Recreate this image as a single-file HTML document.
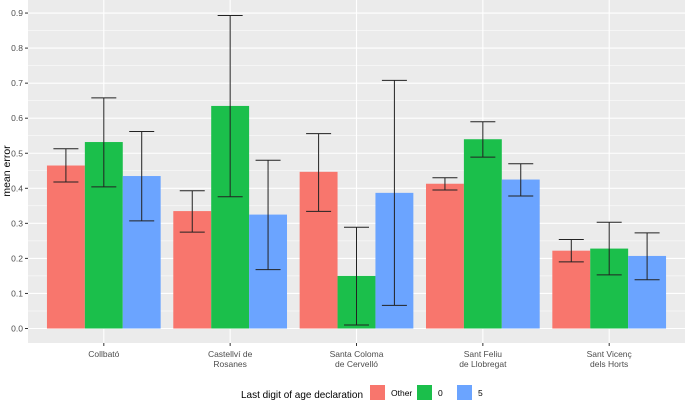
<!DOCTYPE html>
<html><head><meta charset="utf-8"><style>
body{margin:0;background:#fff;font-family:"Liberation Sans",Arial,sans-serif}
svg text{font-family:"Liberation Sans",Arial,sans-serif}
</style></head><body>
<svg id="c" width="685" height="403" xmlns="http://www.w3.org/2000/svg"></svg>
<script>
const categories=["Collbató","Castellví de|Rosanes","Santa Coloma|de Cervelló","Sant Feliu|de Llobregat","Sant Vicenç|dels Horts"];
const series=["Other","0","5"];
const colors=["#F8766D","#1BBF4B","#6BA4FF"];
const valOther=[0.465,0.335,0.447,0.413,0.222];
const loOther=[0.418,0.275,0.334,0.395,0.190];
const hiOther=[0.513,0.393,0.556,0.430,0.254];
const val0=[0.532,0.635,0.150,0.540,0.228];
const lo0=[0.404,0.376,0.010,0.489,0.153];
const hi0=[0.658,0.893,0.289,0.590,0.303];
const val5=[0.435,0.325,0.387,0.425,0.207];
const lo5=[0.307,0.168,0.066,0.378,0.139];
const hi5=[0.562,0.480,0.708,0.470,0.273];
const yTicks=[0,0.1,0.2,0.3,0.4,0.5,0.6,0.7,0.8,0.9];
const vals=[valOther,val0,val5],los=[loOther,lo0,lo5],his=[hiOther,hi0,hi5];
const svg=document.getElementById('c');const NS="http://www.w3.org/2000/svg";
function mk(t,a,p){const e=document.createElementNS(NS,t);for(const k in a)e.setAttribute(k,a[k]);(p||svg).appendChild(e);return e;}
const L=28,R=685,T=0,B=343;
const y=v=>328.5-v*350.5;
const step=(R-L)/(categories.length+0.2);
const x=i=>L+step*(0.6+i);
const bw=step*0.9/3;
const panel=mk('rect',{x:L,y:T,width:R-L,height:B-T,fill:'#EBEBEB'});


for(let i=0;i<yTicks.length;i++){
 const v=yTicks[i];
 mk('line',{x1:L,x2:R,y1:y(v+0.05),y2:y(v+0.05),stroke:'#fff','stroke-width':0.5});
 mk('line',{x1:L,x2:R,y1:y(v),y2:y(v),stroke:'#fff','stroke-width':1.1});
 mk('line',{x1:L-3,x2:L,y1:y(v),y2:y(v),stroke:'#333'});
 const t=mk('text',{x:L-5,y:y(v)+3,'text-anchor':'end','font-size':8.5,fill:'#4D4D4D'});t.textContent=v.toFixed(1);
 
 
}
categories.forEach((c,i)=>{
 mk('line',{x1:x(i),x2:x(i),y1:T,y2:B,stroke:'#fff','stroke-width':1.1});
 mk('line',{x1:x(i),x2:x(i),y1:B,y2:B+3,stroke:'#333'});
 c.split('|').forEach((ln,j)=>{const t=mk('text',{x:x(i),y:B+14+j*10,'text-anchor':'middle','font-size':8.5,fill:'#4D4D4D'});t.textContent=ln;
 
 });
});
for(let s=0;s<3;s++)for(let i=0;i<categories.length;i++){
 const cx=x(i)+(s-1)*bw;
 const r=mk('rect',{x:cx-bw/2,y:y(vals[s][i]),width:bw,height:y(0)-y(vals[s][i]),fill:colors[s]});
 
 
 const g=mk('g',{stroke:'#222','stroke-width':1});
 
 
 mk('line',{x1:cx,x2:cx,y1:y(los[s][i]),y2:y(his[s][i])},g);
 mk('line',{x1:cx-12.5,x2:cx+12.5,y1:y(los[s][i]),y2:y(los[s][i])},g);
 mk('line',{x1:cx-12.5,x2:cx+12.5,y1:y(his[s][i]),y2:y(his[s][i])},g);
}
const yt=mk('text',{x:10,y:171,'text-anchor':'middle','font-size':10.5,fill:'#000',transform:'rotate(-90 10 171)'});yt.textContent='mean error';


const lt=mk('text',{x:241,y:398,'font-size':10.5,fill:'#000',textLength:122,lengthAdjust:'spacingAndGlyphs'});lt.textContent='Last digit of age declaration';


const lx=[370,417,457];
series.forEach((s,k)=>{
 const r=mk('rect',{x:lx[k],y:385,width:15,height:15,fill:colors[k]});
 
 
 const t=mk('text',{x:lx[k]+21,y:396,'font-size':8.5,fill:'#000'});t.textContent=s;
 
 
});
</script>
</body></html>
